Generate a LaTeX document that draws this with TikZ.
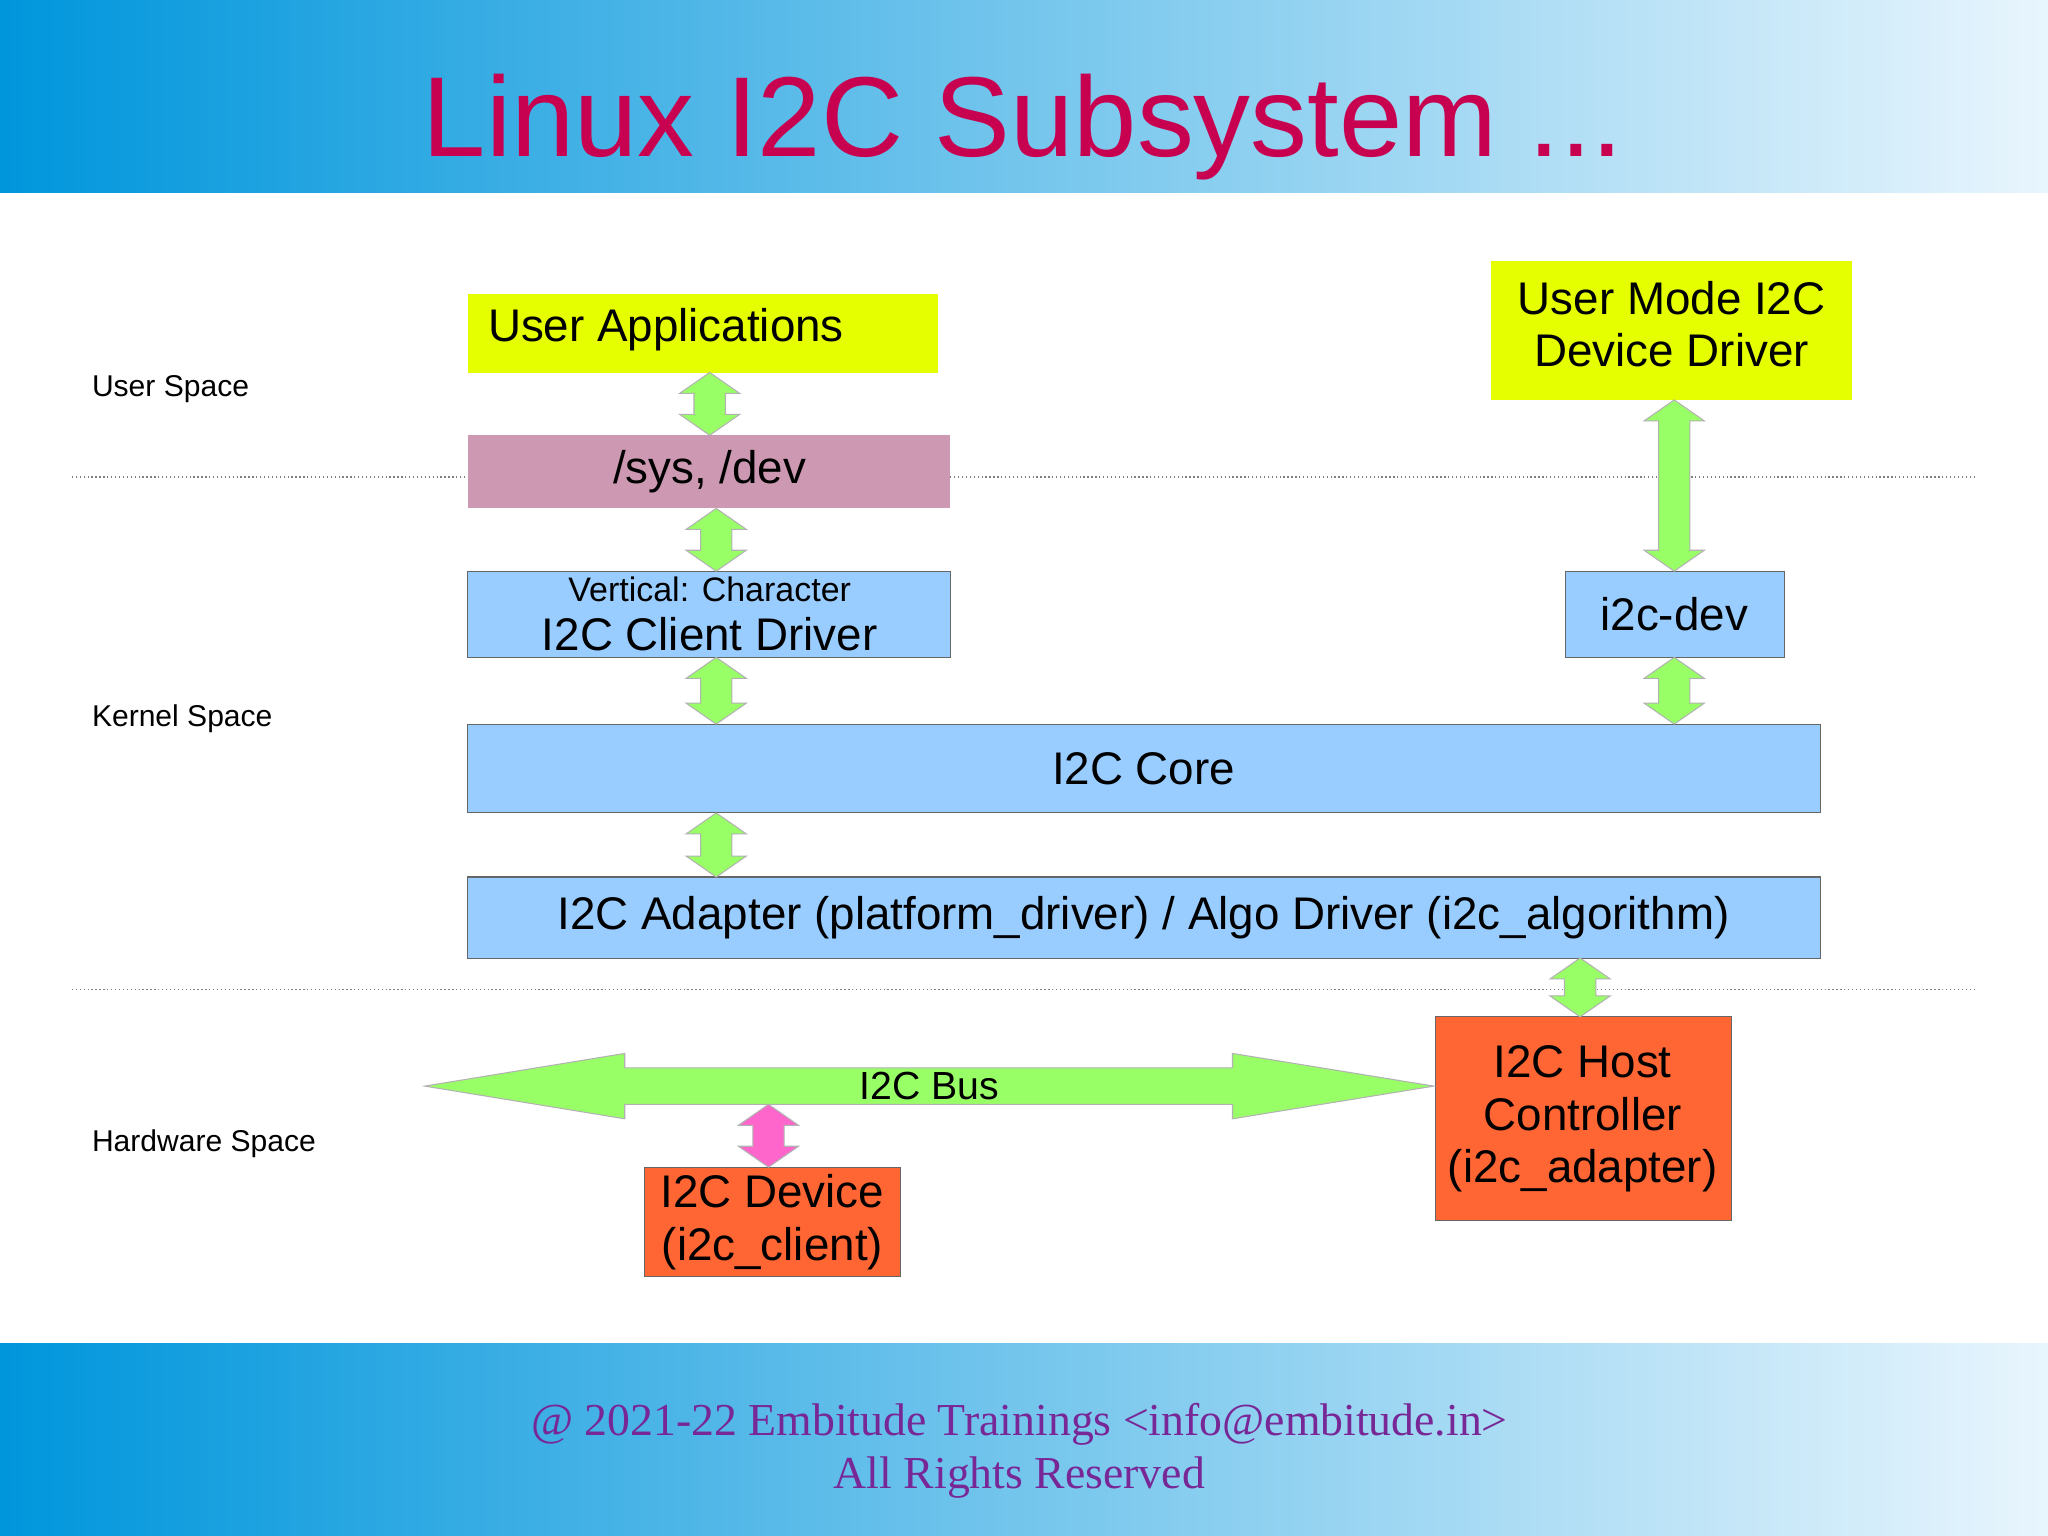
\documentclass[tikz,border=0pt]{standalone}
\usepackage{fontspec}
\setmainfont{Liberation Sans}
\newfontfamily\seriff{Liberation Serif}
\begin{document}
\definecolor{bannerL}{RGB}{0,150,220}
\definecolor{bannerR}{RGB}{232,245,253}
\definecolor{ttl}{RGB}{200,0,80}
\definecolor{foot}{RGB}{120,40,150}
\definecolor{yel}{RGB}{230,255,0}
\definecolor{mauve}{RGB}{205,153,178}
\definecolor{lblue}{RGB}{153,204,255}
\definecolor{org}{RGB}{255,102,51}
\definecolor{grn}{RGB}{153,255,102}
\definecolor{pnk}{RGB}{255,102,204}
\newcommand{\fs}[1]{\fontsize{#1}{1.15\dimexpr#1\relax}\selectfont}
\newcommand{\darr}[4]{% x, ytop, ybottom, color
 \fill[#4,draw=gray!60,line width=0.4pt] (#1-12,#2+16) -- (#1-23,#2+16) -- (#1,#2) -- (#1+23,#2+16) -- (#1+12,#2+16) -- (#1+12,#3-16) -- (#1+23,#3-16) -- (#1,#3) -- (#1-23,#3-16) -- (#1-12,#3-16) -- cycle;}
\begin{tikzpicture}[x=0.5pt,y=-0.5pt,
  box/.style={draw=gray!80!black,line width=0.4pt,inner sep=0pt,align=center},
  lab/.style={anchor=west,inner sep=0pt,font=\fs{11.5pt}}]
\useasboundingbox (0,0) rectangle (1567,1175);
\fill[white] (0,0) rectangle (1567,1175);
\shade[left color=bannerL,right color=bannerR] (0,0) rectangle (1567,147);
\shade[left color=bannerL,right color=bannerR] (0,1028) rectangle (1567,1175);
\node[text=ttl,font=\fs{43.5pt}] (title) at (783,97) {Linux I2C Subsystem ...};
\node[text=foot,font=\seriff\fs{17.5pt},align=center] (footer) at (780,1110) {@ 2021-22 Embitude Trainings <info@embitude.in>\\All Rights Reserved};
\draw[gray,densely dotted,line width=0.5pt] (55,365) -- (1512,365);
\draw[gray,densely dotted,line width=0.5pt] (55,757) -- (1512,757);
\node[lab] (us) at (70,298) {User Space};
\node[lab] (ks) at (70,550) {Kernel Space};
\node[lab] (hs) at (70,875) {Hardware Space};
% boxes
\path[fill=yel] (358,225) rectangle (718,285);
\node[anchor=west,inner sep=0pt,font=\fs{17.5pt}] (ua) at (373,252) {User Applications};
\path[fill=mauve] (358,333) rectangle (727,389);
\node[font=\fs{17.5pt}] (sys) at (543,361) {/sys, /dev};
\draw[box,fill=lblue] (358,437) rectangle (727,503);
\node[font=\fs{13pt}] (vc) at (543,451) {Vertical: Character};
\node[font=\fs{17.5pt}] (cd) at (543,485) {I2C Client Driver};
\draw[box,fill=lblue] (358,554) rectangle (1393,622);
\node[font=\fs{17.5pt}] (core) at (875,588) {I2C Core};
\draw[box,fill=lblue] (358,671) rectangle (1393,733);
\node[font=\fs{17.5pt}] (adap) at (875,702) {I2C Adapter (platform\_driver) / Algo Driver (i2c\_algorithm)};
\path[fill=yel] (1141,200) rectangle (1417,306);
\node[font=\fs{17.5pt},align=center] (umd) at (1279,248) {User Mode I2C\\Device Driver};
\draw[box,fill=lblue] (1198,437) rectangle (1365,503);
\node[font=\fs{17.5pt}] (dev) at (1281,470) {i2c-dev};
\draw[box,fill=org] (1098,778) rectangle (1325,934);
\node[font=\fs{17.5pt},align=center] (hc) at (1211,856) {I2C Host\\Controller\\(i2c\_adapter)};
\draw[box,fill=org] (493,893) rectangle (689,977);
\node[font=\fs{17.5pt},align=center] (cl) at (591,935) {I2C Device\\(i2c\_client)};
% arrows
\darr{543}{285}{333}{grn}
\darr{548}{389}{437}{grn}
\darr{548}{503}{554}{grn}
\darr{548}{622}{671}{grn}
\darr{1281}{306}{437}{grn}
\darr{1281}{503}{554}{grn}
\darr{1209}{733}{778}{grn}
\darr{588}{845}{893}{pnk}
\fill[grn,draw=gray!60,line width=0.4pt] (325,831) -- (478,806) -- (478,817) -- (943,817) -- (943,806) -- (1097,831) -- (943,856) -- (943,845) -- (478,845) -- (478,856) -- cycle;
\node[font=\fs{15pt}] (bus) at (711,831) {I2C Bus};
\end{tikzpicture}
\end{document}
